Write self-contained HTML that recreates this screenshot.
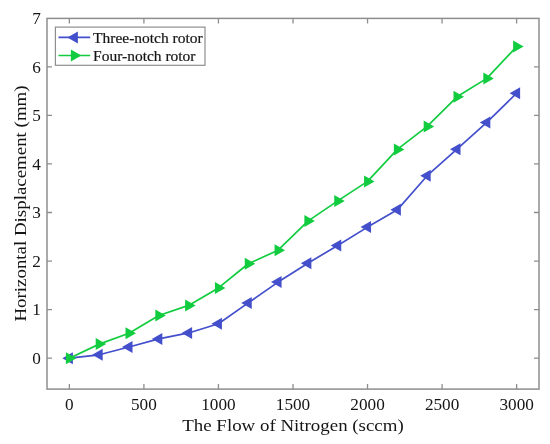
<!DOCTYPE html>
<html><head><meta charset="utf-8"><style>
html,body{margin:0;padding:0;background:#fff;width:550px;height:444px;overflow:hidden}
svg{display:block;filter:blur(0.4px)}
</style></head><body>
<svg width="550" height="444" viewBox="0 0 550 444"><rect x="47.0" y="18.4" width="492.0" height="370.70000000000005" fill="#fff" stroke="none"/>
<path d="M69.36 389.1V384.1M69.36 18.4V23.4M143.91 389.1V384.1M143.91 18.4V23.4M218.45 389.1V384.1M218.45 18.4V23.4M293.00 389.1V384.1M293.00 18.4V23.4M367.54 389.1V384.1M367.54 18.4V23.4M442.09 389.1V384.1M442.09 18.4V23.4M516.63 389.1V384.1M516.63 18.4V23.4M47.0 358.20H52.0M539.0 358.20H534.0M47.0 309.63H52.0M539.0 309.63H534.0M47.0 261.06H52.0M539.0 261.06H534.0M47.0 212.49H52.0M539.0 212.49H534.0M47.0 163.92H52.0M539.0 163.92H534.0M47.0 115.35H52.0M539.0 115.35H534.0M47.0 66.78H52.0M539.0 66.78H534.0" stroke="#8e8e8e" stroke-width="1.3" fill="none"/>
<rect x="47.0" y="18.4" width="492.0" height="370.70000000000005" fill="none" stroke="#8e8e8e" stroke-width="1.5"/>
<polyline points="69.36,358.20 99.18,354.80 129.00,347.03 158.81,338.92 188.63,332.94 218.45,323.72 248.27,302.88 278.09,282.09 307.90,263.20 337.72,245.42 367.54,227.11 397.36,209.82 427.18,175.72 456.99,149.20 486.81,122.39 516.63,93.20" fill="none" stroke="#434fcb" stroke-width="1.7" stroke-linejoin="round"/>
<polygon points="62.36,358.20 72.86,352.20 72.86,364.20" fill="#434fcb"/>
<polygon points="92.18,354.80 102.68,348.80 102.68,360.80" fill="#434fcb"/>
<polygon points="122.00,347.03 132.50,341.03 132.50,353.03" fill="#434fcb"/>
<polygon points="151.81,338.92 162.31,332.92 162.31,344.92" fill="#434fcb"/>
<polygon points="181.63,332.94 192.13,326.94 192.13,338.94" fill="#434fcb"/>
<polygon points="211.45,323.72 221.95,317.72 221.95,329.72" fill="#434fcb"/>
<polygon points="241.27,302.88 251.77,296.88 251.77,308.88" fill="#434fcb"/>
<polygon points="271.09,282.09 281.59,276.09 281.59,288.09" fill="#434fcb"/>
<polygon points="300.90,263.20 311.40,257.20 311.40,269.20" fill="#434fcb"/>
<polygon points="330.72,245.42 341.22,239.42 341.22,251.42" fill="#434fcb"/>
<polygon points="360.54,227.11 371.04,221.11 371.04,233.11" fill="#434fcb"/>
<polygon points="390.36,209.82 400.86,203.82 400.86,215.82" fill="#434fcb"/>
<polygon points="420.18,175.72 430.68,169.72 430.68,181.72" fill="#434fcb"/>
<polygon points="449.99,149.20 460.49,143.20 460.49,155.20" fill="#434fcb"/>
<polygon points="479.81,122.39 490.31,116.39 490.31,128.39" fill="#434fcb"/>
<polygon points="509.63,93.20 520.13,87.20 520.13,99.20" fill="#434fcb"/>
<polyline points="69.36,358.20 99.18,344.11 129.00,333.19 158.81,315.51 188.63,305.40 218.45,287.92 248.27,263.78 278.09,250.18 307.90,221.09 337.72,200.88 367.54,181.41 397.36,149.40 427.18,126.38 456.99,96.80 486.81,78.39 516.63,46.62" fill="none" stroke="#12cc40" stroke-width="1.7" stroke-linejoin="round"/>
<polygon points="76.36,358.20 65.86,352.20 65.86,364.20" fill="#12cc40"/>
<polygon points="106.18,344.11 95.68,338.11 95.68,350.11" fill="#12cc40"/>
<polygon points="136.00,333.19 125.50,327.19 125.50,339.19" fill="#12cc40"/>
<polygon points="165.81,315.51 155.31,309.51 155.31,321.51" fill="#12cc40"/>
<polygon points="195.63,305.40 185.13,299.40 185.13,311.40" fill="#12cc40"/>
<polygon points="225.45,287.92 214.95,281.92 214.95,293.92" fill="#12cc40"/>
<polygon points="255.27,263.78 244.77,257.78 244.77,269.78" fill="#12cc40"/>
<polygon points="285.09,250.18 274.59,244.18 274.59,256.18" fill="#12cc40"/>
<polygon points="314.90,221.09 304.40,215.09 304.40,227.09" fill="#12cc40"/>
<polygon points="344.72,200.88 334.22,194.88 334.22,206.88" fill="#12cc40"/>
<polygon points="374.54,181.41 364.04,175.41 364.04,187.41" fill="#12cc40"/>
<polygon points="404.36,149.40 393.86,143.40 393.86,155.40" fill="#12cc40"/>
<polygon points="434.18,126.38 423.68,120.38 423.68,132.38" fill="#12cc40"/>
<polygon points="463.99,96.80 453.49,90.80 453.49,102.80" fill="#12cc40"/>
<polygon points="493.81,78.39 483.31,72.39 483.31,84.39" fill="#12cc40"/>
<polygon points="523.63,46.62 513.13,40.62 513.13,52.62" fill="#12cc40"/>
<g font-family="&quot;Liberation Serif&quot;, serif" font-size="17.2" fill="#151515"><text x="69.36" y="410.3" text-anchor="middle">0</text><text x="143.91" y="410.3" text-anchor="middle">500</text><text x="218.45" y="410.3" text-anchor="middle">1000</text><text x="293.00" y="410.3" text-anchor="middle">1500</text><text x="367.54" y="410.3" text-anchor="middle">2000</text><text x="442.09" y="410.3" text-anchor="middle">2500</text><text x="516.63" y="410.3" text-anchor="middle">3000</text><text x="40.8" y="364.00" text-anchor="end">0</text><text x="40.8" y="315.43" text-anchor="end">1</text><text x="40.8" y="266.86" text-anchor="end">2</text><text x="40.8" y="218.29" text-anchor="end">3</text><text x="40.8" y="169.72" text-anchor="end">4</text><text x="40.8" y="121.15" text-anchor="end">5</text><text x="40.8" y="72.58" text-anchor="end">6</text><text x="40.8" y="24.01" text-anchor="end">7</text></g>
<text transform="translate(293 431.2) scale(1 0.92)" text-anchor="middle" font-family="&quot;Liberation Serif&quot;, serif" font-size="18.92" fill="#151515">The Flow of Nitrogen (sccm)</text>
<text transform="translate(25.6 203.5) rotate(-90) scale(1 0.92)" text-anchor="middle" font-family="&quot;Liberation Serif&quot;, serif" font-size="18.92" fill="#151515">Horizontal Displacement (mm)</text>
<rect x="55.4" y="27.1" width="149.6" height="38.2" fill="#fff" stroke="#8e8e8e" stroke-width="1.2"/>
<line x1="58.5" y1="37.4" x2="90.2" y2="37.4" stroke="#434fcb" stroke-width="1.7"/>
<polygon points="67.35,37.40 77.85,31.40 77.85,43.40" fill="#434fcb"/>
<line x1="58.5" y1="55.5" x2="90.2" y2="55.5" stroke="#12cc40" stroke-width="1.7"/>
<polygon points="81.35,55.50 70.85,49.50 70.85,61.50" fill="#12cc40"/>
<g font-family="&quot;Liberation Serif&quot;, serif" font-size="15.48" fill="#151515" stroke="#151515" stroke-width="0.2"><text x="93.1" y="43.1">Three-notch rotor</text><text x="93.1" y="61.3">Four-notch rotor</text></g></svg>
</body></html>
